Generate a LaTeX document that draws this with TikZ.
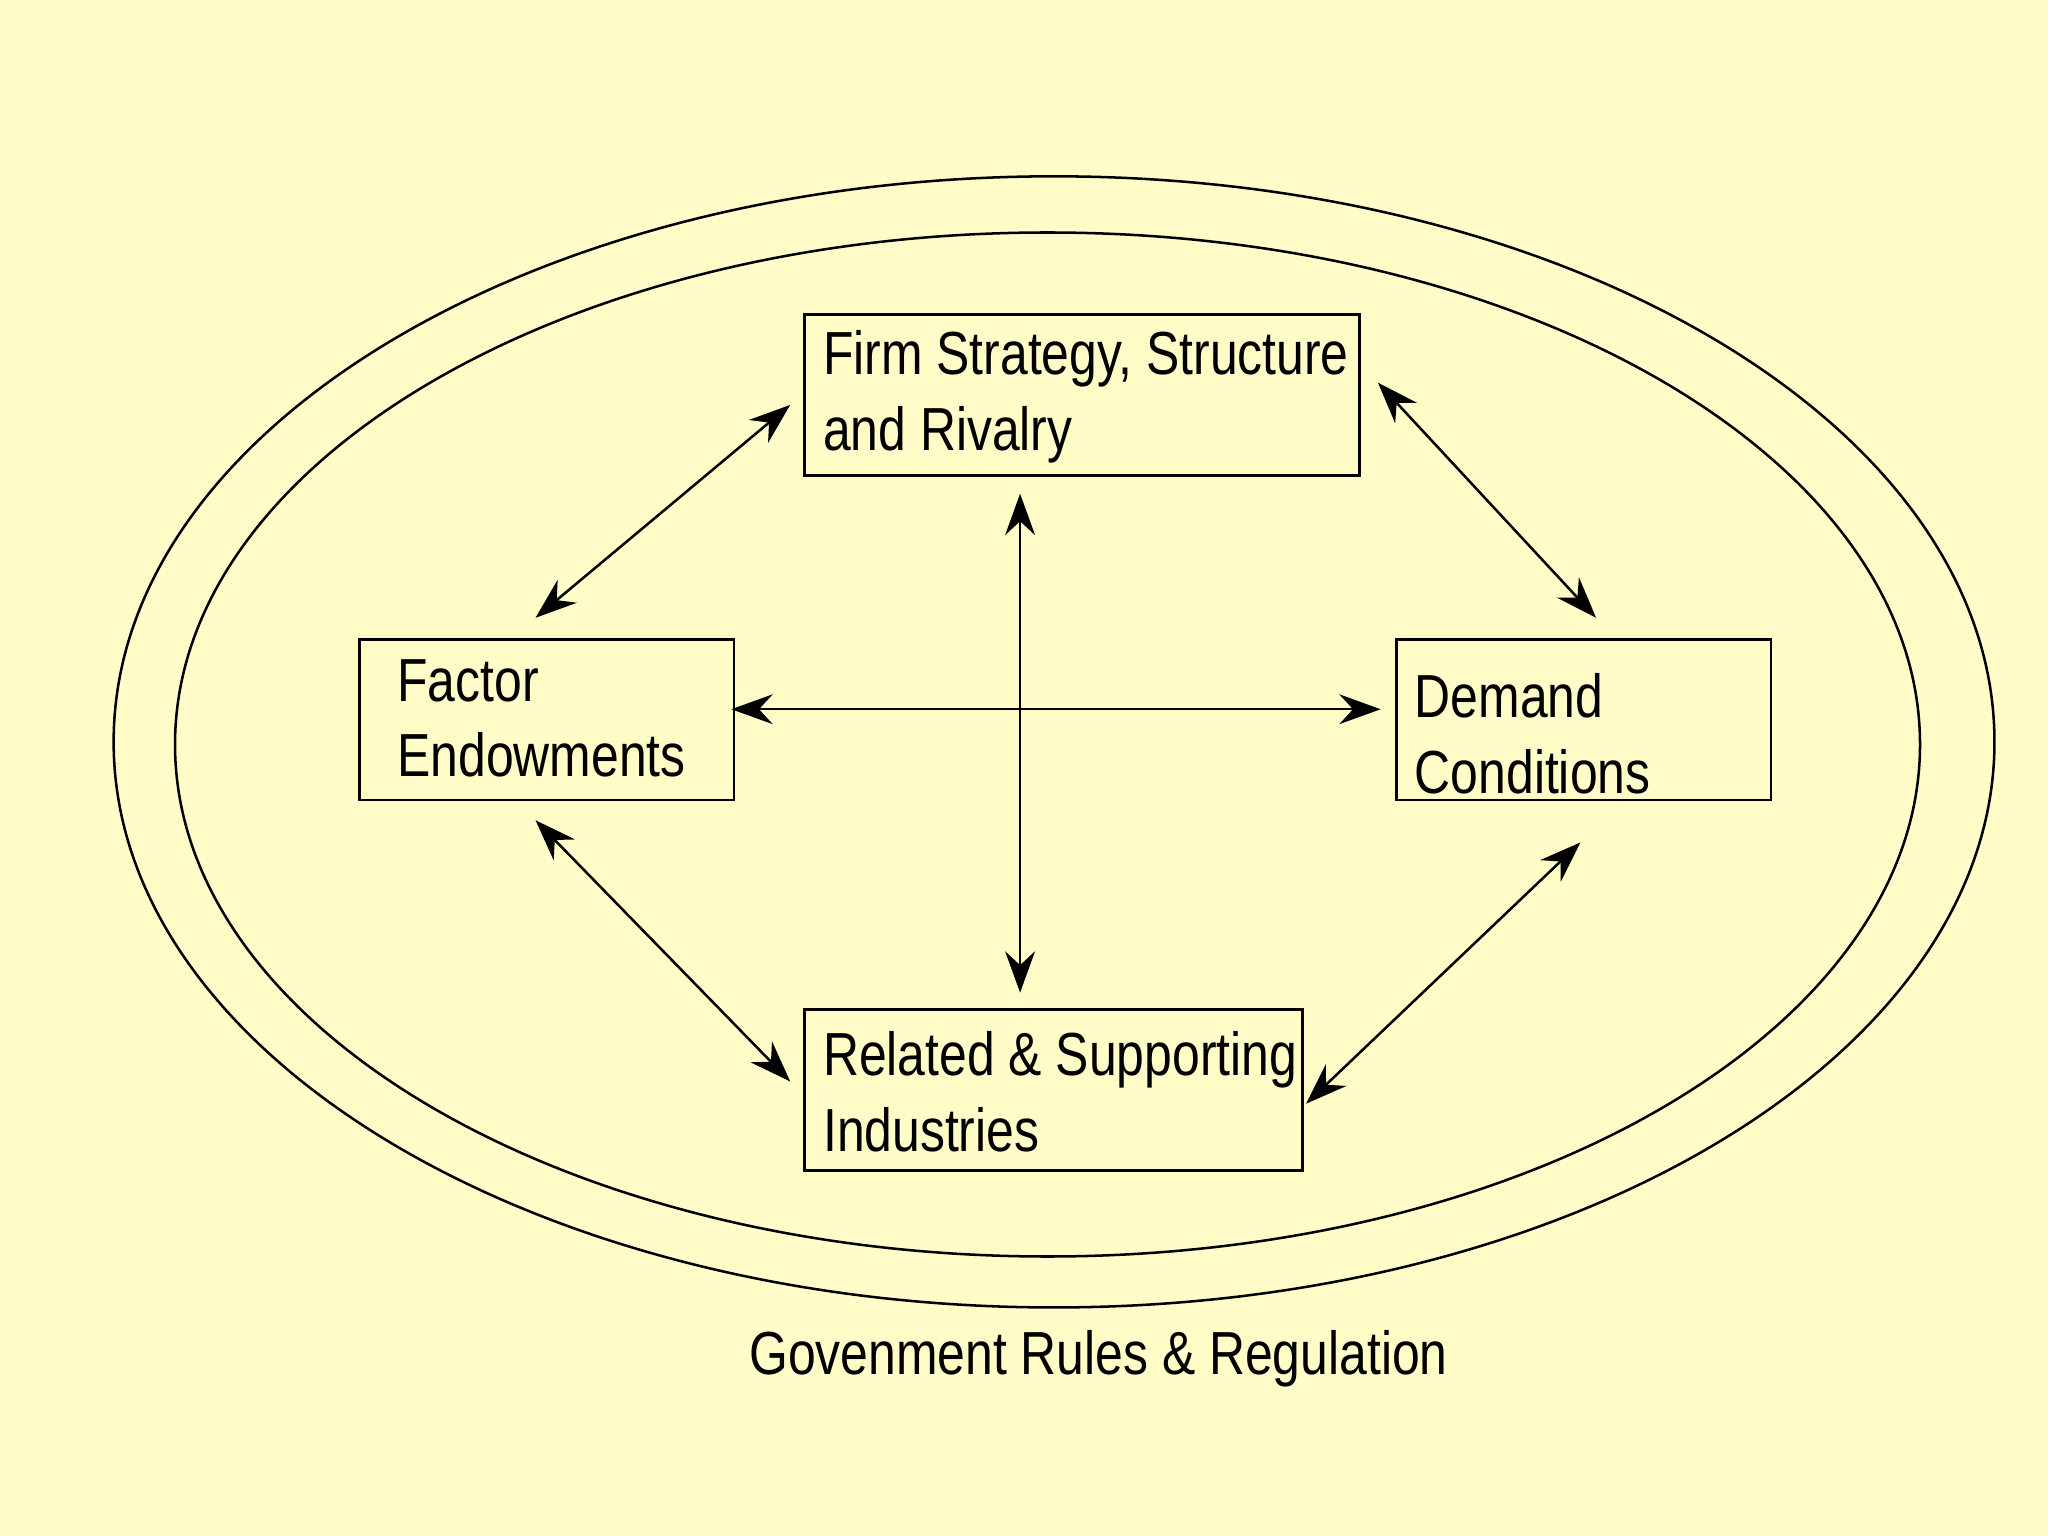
\documentclass[tikz,border=0pt]{standalone}
\usepackage{fontspec}
\setmainfont{Liberation Sans}[FakeStretch=0.82]
\usetikzlibrary{arrows.meta}
\begin{document}
\begin{tikzpicture}[x=0.02cm,y=-0.02cm,
  box/.style={draw,line width=1.2pt,minimum width=#1,minimum height=2.46cm,inner sep=0pt},
  lbl/.style={font=\fontsize{26.5}{33}\selectfont,align=left,anchor=west},
  conn/.style={line width=1.1pt,{Stealth[length=18pt,width=13pt,inset=6pt]}-{Stealth[length=18pt,width=13pt,inset=6pt]}}]
\fill[yellow!22!white] (0,0) rectangle (1568,1176);
\useasboundingbox (0,0) rectangle (1568,1176);
\draw[line width=1.1pt] (807,568) ellipse [x radius=720, y radius=433];
\draw[line width=1.1pt] (802,570) ellipse [x radius=668, y radius=392];
\node[box=8.5cm] (firm) at (828.5,302.5) {};
\node[box=5.74cm] (factor) at (418.5,551) {};
\node[box=5.74cm] (demand) at (1212.5,551) {};
\node[box=7.62cm] (rel) at (806.5,834.5) {};
\node[lbl] (t1) at (624,304) {Firm Strategy, Structure\\and Rivalry};
\node[lbl] (t2) at (298,550) {Factor\\Endowments};
\node[lbl] (t3) at (1077,562) {Demand\\Conditions};
\node[lbl] (t4) at (624,836) {Related \& Supporting\\Industries};
\node[font=\fontsize{26.5}{33}\selectfont] (gov) at (841,1040) {Govenment Rules \& Regulation};
\coordinate (a1) at (605,310); \coordinate (a2) at (410,473);
\coordinate (b1) at (1055,293); \coordinate (b2) at (1222,473);
\coordinate (c1) at (781,378); \coordinate (c2) at (781,760);
\coordinate (d1) at (560,543); \coordinate (d2) at (1057,543);
\coordinate (e1) at (410,628); \coordinate (e2) at (605,828);
\coordinate (f1) at (1210,645); \coordinate (f2) at (1000,845);
\draw[conn] (a1) -- (a2);
\draw[conn] (b1) -- (b2);
\draw[conn] (c1) -- (c2);
\draw[conn] (d1) -- (d2);
\draw[conn] (e1) -- (e2);
\draw[conn] (f1) -- (f2);
\end{tikzpicture}
\end{document}
